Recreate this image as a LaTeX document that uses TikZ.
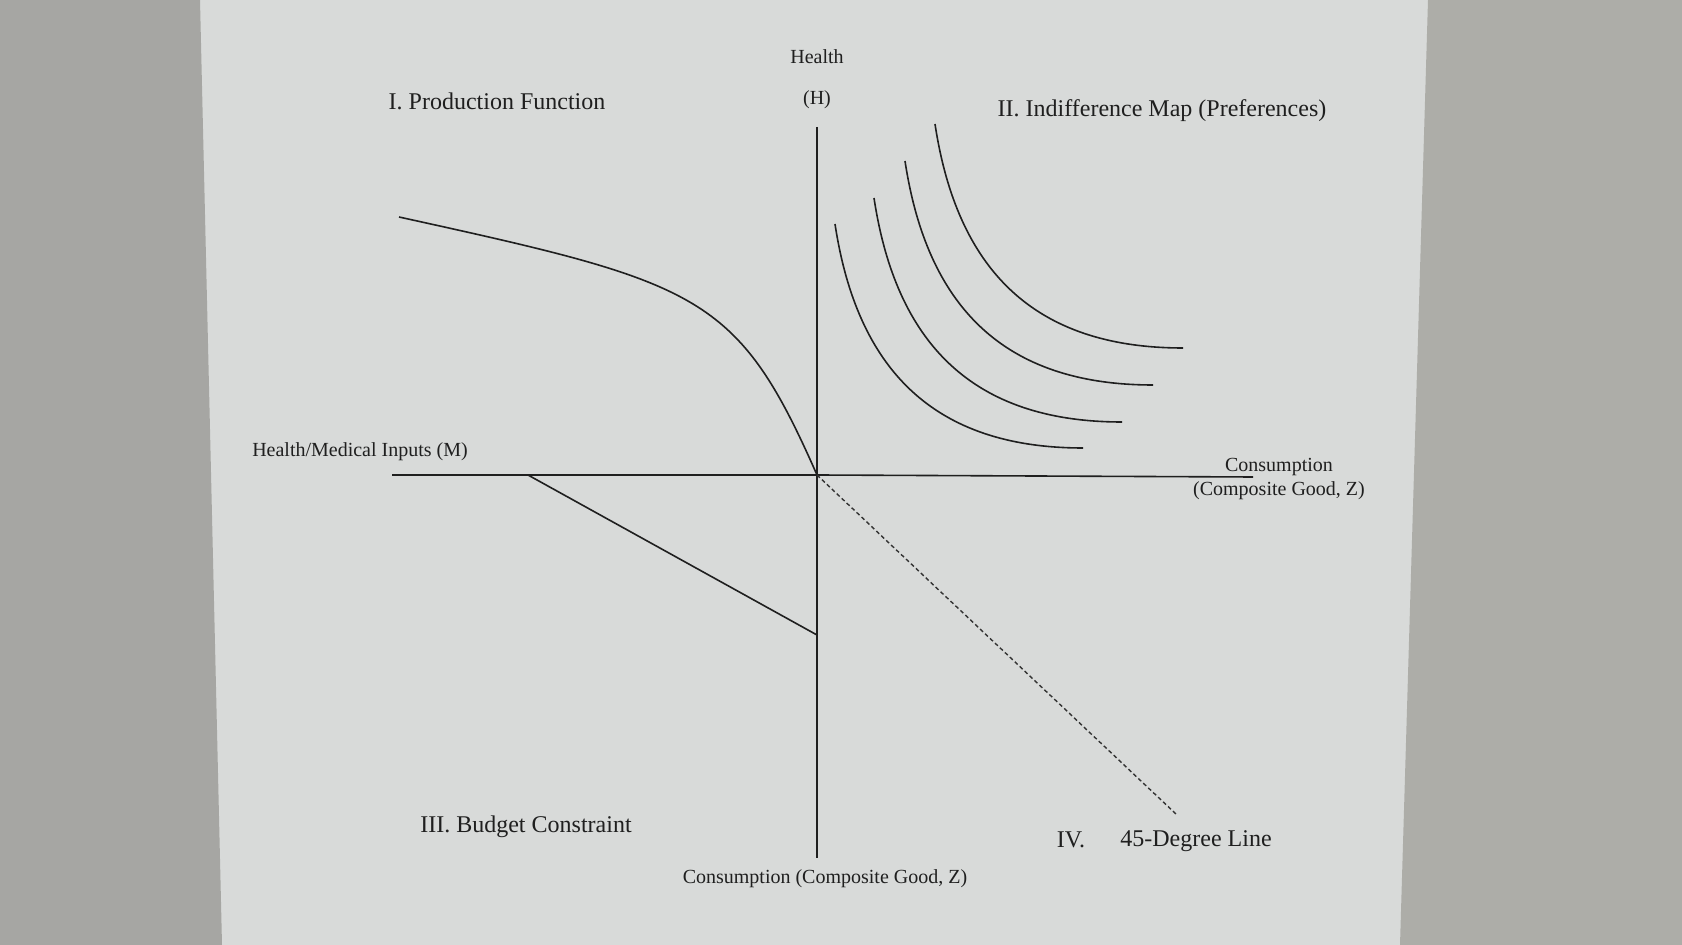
\documentclass[tikz,border=0pt]{standalone}
\usepackage{fontspec}
\setmainfont{Liberation Serif}
\begin{document}
\begin{tikzpicture}[x=0.5pt,y=-0.5pt,
  curve/.style={line width=0.8pt, draw=black!88},
  axis/.style={line width=0.8pt, draw=black!88},
  fortyfive/.style={line width=0.7pt, draw=black!80, dash pattern=on 2pt off 1.4pt},
  lbl/.style={inner sep=0pt, text=black!88, font=\fontsize{10}{12}\selectfont},
  ttl/.style={inner sep=0pt, text=black!88, font=\fontsize{12}{14}\selectfont}]
\definecolor{wall}{HTML}{A6A6A3}
\definecolor{wallr}{HTML}{ADADA8}
\definecolor{screen}{HTML}{D8DAD9}
\useasboundingbox (0,0) rectangle (1682,945);
\fill[screen] (0,0) rectangle (1682,945);
\fill[wall] (0,0) -- (200,0) -- (222,945) -- (0,945) -- cycle;
\fill[wallr] (1428,0) -- (1682,0) -- (1682,945) -- (1400,945) -- cycle;

% key points
\coordinate (O) at (817,475);
\coordinate (Htop) at (817,127);
\coordinate (Hbot) at (817,858);
\coordinate (Mleft) at (392,475);
\coordinate (Zright) at (1253,477);
\coordinate (B1) at (528,475);
\coordinate (B2) at (817,635);
\coordinate (P0) at (399,217);
\coordinate (D1) at (1177,815);

% axes
\draw[axis] (Htop) -- (Hbot);
\draw[axis] (Mleft) -- (O) -- (Zright);

% production function
\draw[curve] (P0) .. controls (699,283) and (737,293) .. (O);

% budget constraint
\draw[curve] (B1) -- (B2);

% 45-degree line
\draw[fortyfive] (O) -- (D1);

% indifference curves (same shape, shifted)
\foreach \sx/\sy [count=\i] in {835/224, 874/198, 905/161, 935/124} {
  \coordinate (s\i) at (\sx,\sy);
  \coordinate (e\i) at (\sx+248,\sy+224);
  \draw[curve] (s\i) .. controls +(22,145) and +(-150,0) .. (e\i);
}

% labels
\node[lbl] (health) at (817,57) {Health};
\node[lbl] (hlab) at (817,100) {(H)};
\node[ttl] (q1) at (497,101) {I. Production Function};
\node[ttl] (q2) at (1162,111) {II. Indifference Map (Preferences)};
\node[lbl] (mlab) at (360,452) {Health/Medical Inputs (M)};
\node[lbl] (zlab1) at (1279,467) {Consumption};
\node[lbl] (zlab2) at (1279,491) {(Composite Good, Z)};
\node[ttl] (q3) at (526,827) {III. Budget Constraint};
\node[ttl] (q4a) at (1071,840) {IV.};
\node[ttl] (q4b) at (1196,841) {45-Degree Line};
\node[lbl] (zbot) at (825,879) {Consumption (Composite Good, Z)};
\end{tikzpicture}
\end{document}
